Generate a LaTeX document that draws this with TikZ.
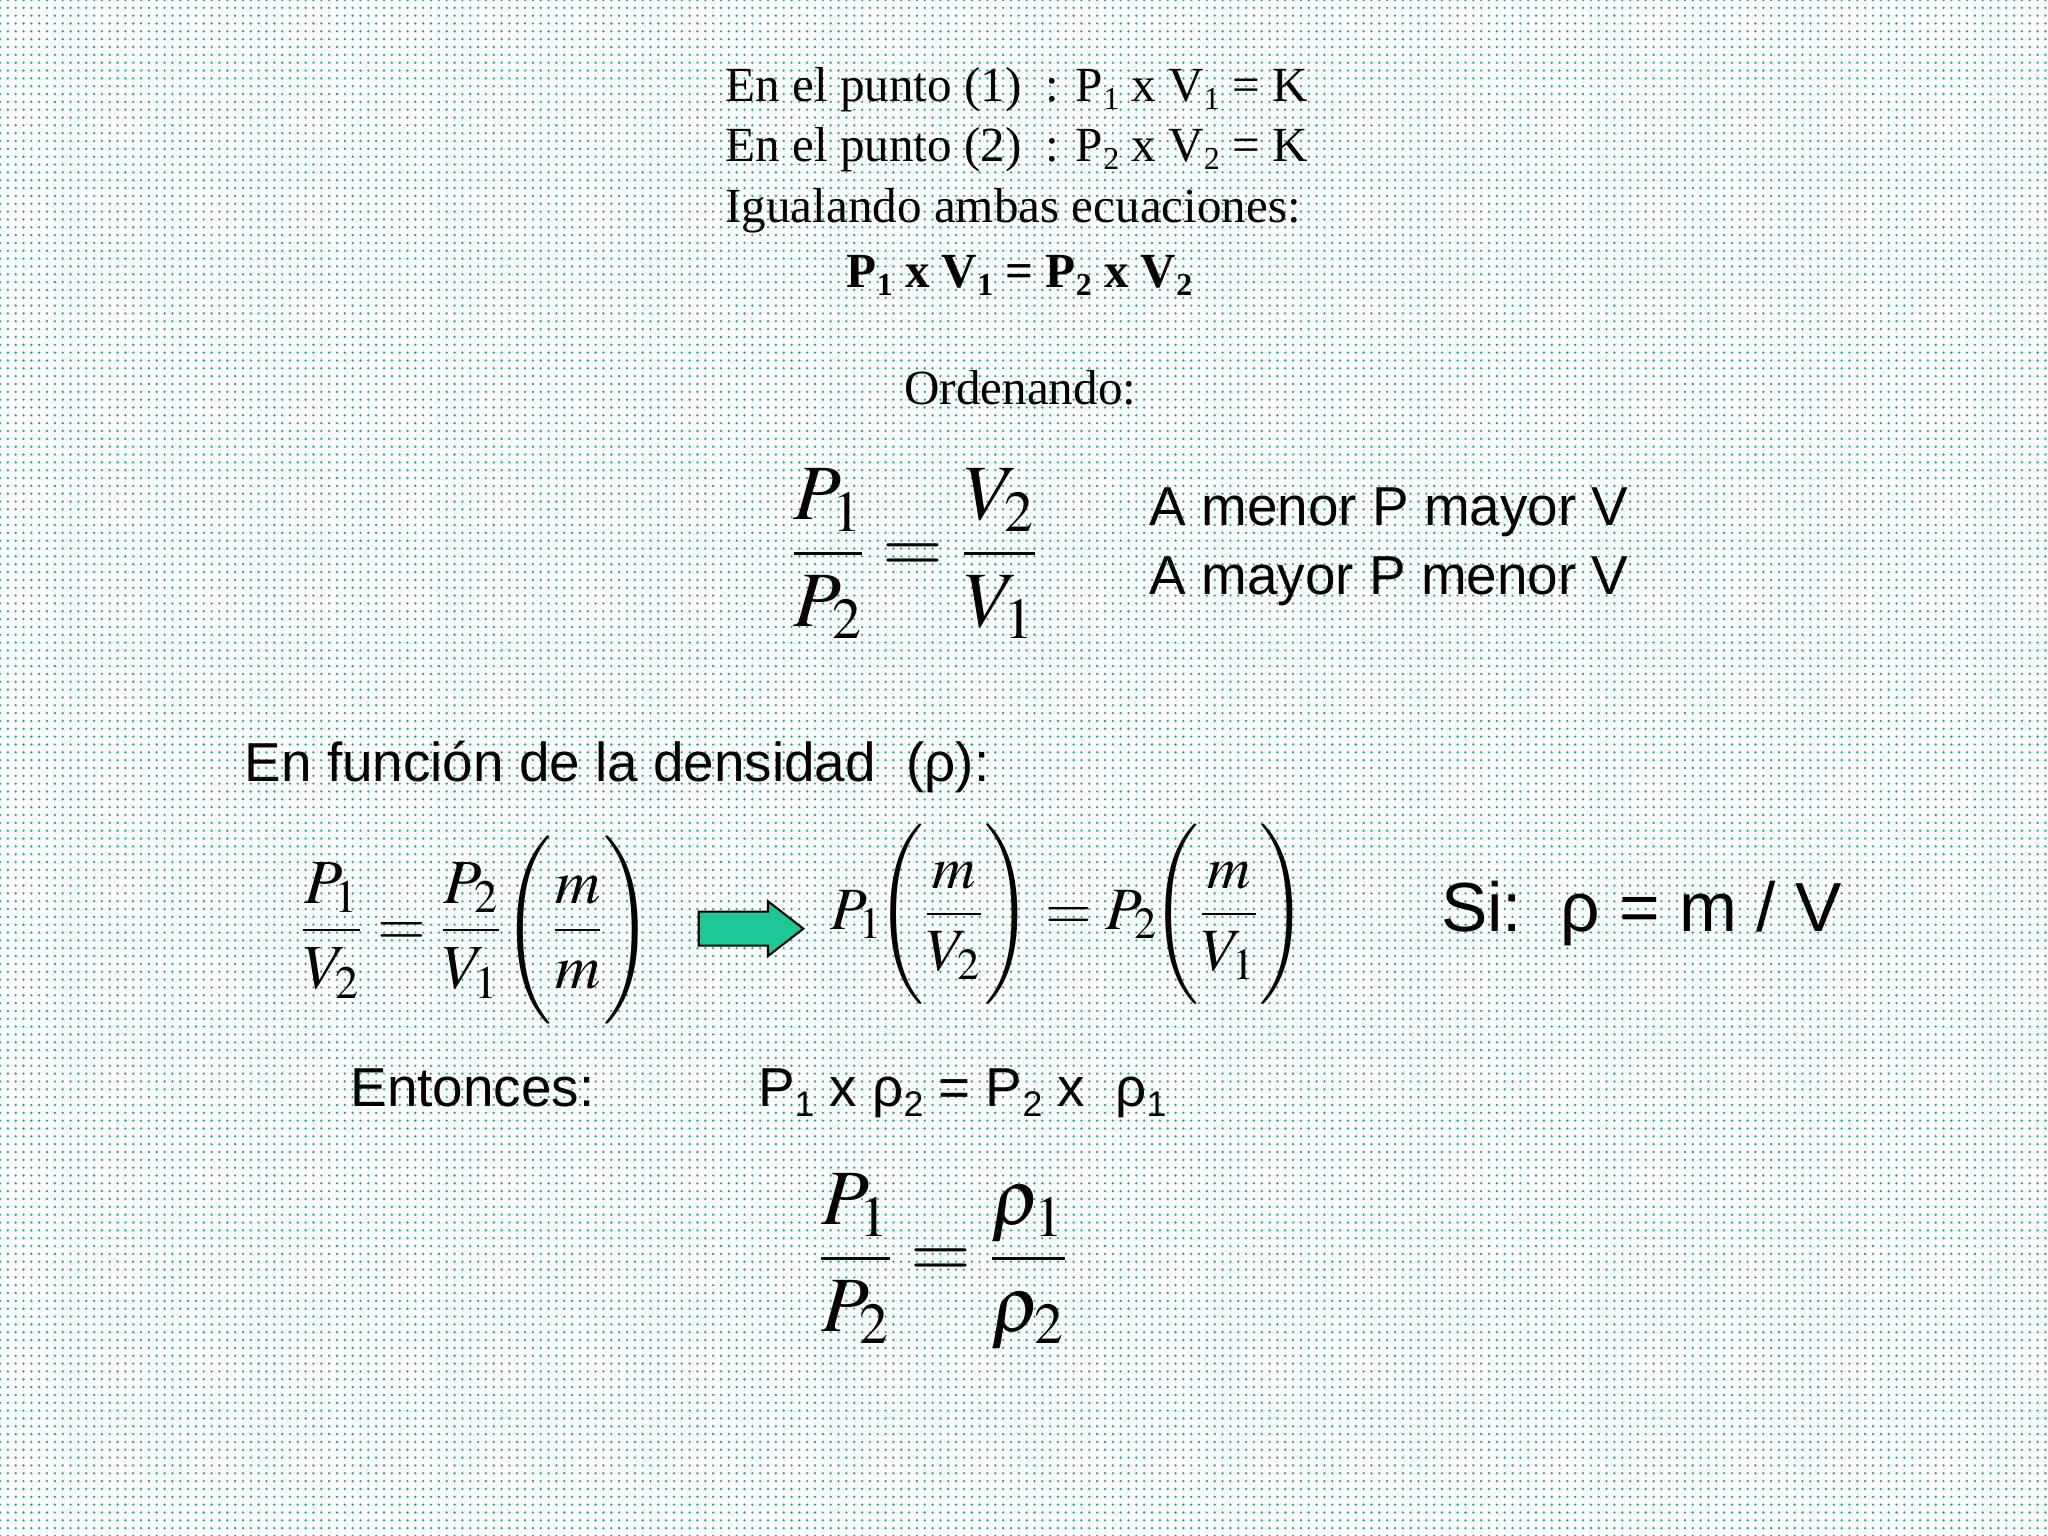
\documentclass[tikz,border=0pt]{standalone}
\usepackage{mathptmx}
\usepackage{fontspec}
\setmainfont{Liberation Serif}
\setsansfont{Liberation Sans}
\usetikzlibrary{patterns}
\definecolor{dotc}{RGB}{30,170,120}
\definecolor{arrc}{RGB}{30,200,150}
\newcommand{\sbs}[1]{\raisebox{-0.35ex}{\scalebox{0.65}{#1}}}
\begin{document}
\begin{tikzpicture}[x=0.5pt,y=-0.5pt,
  serif/.style={anchor=base west,inner sep=0,font=\fontsize{18.8}{20}\selectfont},
  sans/.style={anchor=base west,inner sep=0,font=\sffamily\fontsize{21}{24}\selectfont},
  eq/.style={inner sep=0}]
\fill[white] (0,0) rectangle (1568,1176);
\fill[pattern=dots,pattern color=dotc] (0,0) rectangle (1568,1176);
\useasboundingbox (0,0) rectangle (1568,1176);
\node[serif] (l1) at (555,78) {En el punto (1)\ \ : P\sbs{1} x V\sbs{1} = K};
\node[serif] (l2) at (555,124) {En el punto (2)\ \ : P\sbs{2} x V\sbs{2} = K};
\node[serif] (l3) at (555,170) {Igualando ambas ecuaciones:};
\node[serif] (l4) at (648,220) {\bfseries P\sbs{1} x V\sbs{1} = P\sbs{2} x V\sbs{2}};
\node[serif] (ord) at (692,310) {Ordenando:};
\node[eq,font=\fontsize{30}{34}\selectfont] (f1) at (700,424) {$\displaystyle \frac{P_1}{P_2}=\frac{V_2}{V_1}$};
\node[sans] (am1) at (880,402) {A menor P mayor V};
\node[sans] (am2) at (880,455) {A mayor P menor V};
\node[sans] (fun) at (187,598) {En función de la densidad\ \ (ρ):};
\node[eq,font=\fontsize{24}{28}\selectfont] (f2) at (365,712) {$\displaystyle \frac{P_1}{V_2}=\frac{P_2}{V_1}\Biggl(\frac{m}{m}\Biggr)$};
\draw[line width=0.8pt,fill=arrc] (535,698) -- (588,698) -- (588,690) -- (615,711) -- (588,732) -- (588,724) -- (535,724) -- cycle;
\node[eq,font=\fontsize{23}{28}\selectfont] (f3) at (818,700) {$\displaystyle P_1\!\Biggl(\frac{m}{V_2}\Biggr)=P_2\!\Biggl(\frac{m}{V_1}\Biggr)$};
\node[anchor=base west,inner sep=0,font=\sffamily\fontsize{26.6}{32}\selectfont] (si) at (1103,713) {Si:\ \ ρ = m / V};
\node[sans] (ent) at (268,847) {Entonces:};
\node[sans] (pr) at (580,847) {P\sbs{1} x ρ\sbs{2} = P\sbs{2} x\ \ ρ\sbs{1}};
\node[eq,font=\fontsize{30}{34}\selectfont] (f4) at (722,966) {$\displaystyle \frac{P_1}{P_2}=\frac{\rho_1}{\rho_2}$};
\end{tikzpicture}
\end{document}
